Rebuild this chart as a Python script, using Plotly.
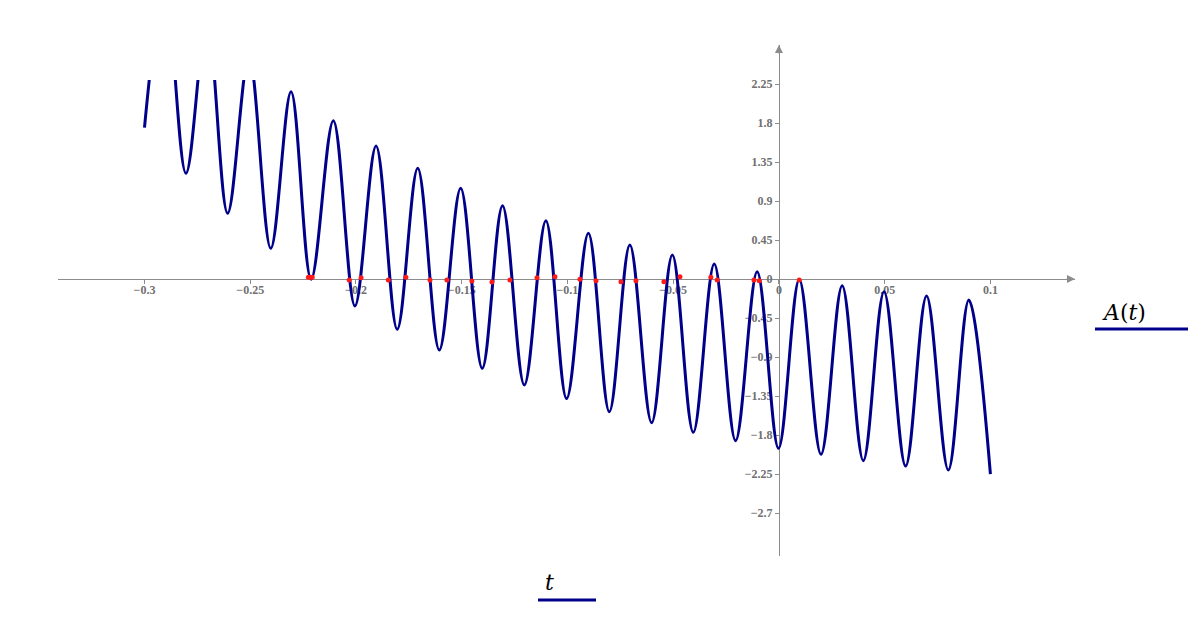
import plotly.graph_objects as go

# ---- data ----
# curve A(t): start, alternating extrema, end
t_curve = [-0.3000, -0.2905, -0.2804, -0.2705, -0.2607, -0.2506, -0.2403, -0.2307,
           -0.2212, -0.2107, -0.2005, -0.1905, -0.1805, -0.1708, -0.1606, -0.1505,
           -0.1403, -0.1307, -0.1204, -0.1102, -0.1004, -0.0901, -0.0802, -0.0705,
           -0.0602, -0.0504, -0.0405, -0.0306, -0.0205, -0.0103, -0.0002, 0.0096,
           0.0199, 0.0299, 0.0399, 0.0497, 0.0599, 0.0698, 0.0801, 0.0898, 0.1000]
a_curve = [1.746, 3.40, 1.220, 3.00, 0.758, 2.57, 0.354, 2.161,
           -0.003, 1.827, -0.311, 1.535, -0.581, 1.277, -0.819, 1.046,
           -1.031, 0.846, -1.223, 0.673, -1.380, 0.527, -1.531, 0.392,
           -1.658, 0.277, -1.769, 0.173, -1.865, 0.084, -1.954, -0.005,
           -2.023, -0.077, -2.096, -0.146, -2.158, -0.196, -2.204, -0.242, -2.250]

# zero-crossing markers (red dots)
t_roots = [-0.2225, -0.2215, -0.2207, -0.2032, -0.1976, -0.1847, -0.1764, -0.1650,
           -0.1570, -0.1452, -0.1357, -0.1272, -0.1144, -0.1059, -0.0941, -0.0865,
           -0.0747, -0.0676, -0.0544, -0.0468, -0.0322, -0.0292, -0.0118, -0.0093, 0.0096]
a_roots = [0.020, 0.020, 0.020, -0.012, 0.015, -0.012, 0.020, -0.012,
           -0.012, -0.023, -0.035, -0.012, 0.015, 0.027, -0.003, -0.020,
           -0.031, -0.020, -0.031, 0.027, 0.020, -0.012, -0.012, -0.020, -0.012]

x_tickvals = [-0.3, -0.25, -0.2, -0.15, -0.1, -0.05, 0, 0.05, 0.1]
x_ticktext = ["\u22120.3", "\u22120.25", "\u22120.2", "\u22120.15", "\u22120.1", "\u22120.05", "0", "0.05", "0.1"]
y_tickvals = [2.25, 1.8, 1.35, 0.9, 0.45, 0, -0.45, -0.9, -1.35, -1.8, -2.25, -2.7]
y_ticktext = ["2.25", "1.8", "1.35", "0.9", "0.45", "0", "\u22120.45", "\u22120.9",
              "\u22121.35", "\u22121.8", "\u22122.25", "\u22122.7"]

X_RANGE = [-0.3409, 0.1400]
Y_RANGE = [-3.196, 2.700]
Y_CLIP_TOP = 2.296

AXIS_GRAY = "#8c8c8c"
LABEL_GRAY = "#707070"
CURVE_BLUE = "#00008b"

# page layout (the page body adds an 8px offset)
OFF = 8
FIG_W, FIG_H = 1204 - OFF, 631 - OFF
ML, MT = 58 - OFF, 45 - OFF
PLOT_W = 1075 - 58
PLOT_H = 556 - 45
MR = FIG_W - ML - PLOT_W
MB = FIG_H - MT - PLOT_H


def px2paper(px, py):
    """page pixel -> plot-area paper fraction"""
    fx = (px - OFF - ML) / PLOT_W
    fy = 1 - (py - OFF - MT) / PLOT_H
    return fx, fy


fig = go.Figure()
# invisible trace to create the main (axes) subplot
fig.add_trace(go.Scatter(x=[X_RANGE[0]], y=[0], mode="markers", xaxis="x", yaxis="y",
                         marker=dict(opacity=0), hoverinfo="skip", showlegend=False))
fig.add_trace(go.Scatter(x=t_curve, y=a_curve, mode="lines", xaxis="x", yaxis="y2",
                         line=dict(color=CURVE_BLUE, width=3, shape="spline", smoothing=1.0),
                         hoverinfo="skip", showlegend=False))
fig.add_trace(go.Scatter(x=t_roots, y=a_roots, mode="markers", xaxis="x", yaxis="y2",
                         marker=dict(color="#ff1a1a", size=5), showlegend=False))

x0_frac = (0 - X_RANGE[0]) / (X_RANGE[1] - X_RANGE[0])
y0_frac = (0 - Y_RANGE[0]) / (Y_RANGE[1] - Y_RANGE[0])
clip_frac = (Y_CLIP_TOP - Y_RANGE[0]) / (Y_RANGE[1] - Y_RANGE[0])

tickfont = dict(family="Liberation Serif", size=12, color=LABEL_GRAY, weight="bold")

fig.update_layout(
    width=FIG_W, height=FIG_H,
    margin=dict(l=ML, r=MR, t=MT, b=MB, pad=0),
    paper_bgcolor="white", plot_bgcolor="rgba(0,0,0,0)",
    showlegend=False,
    xaxis=dict(range=X_RANGE, anchor="free", position=y0_frac, showgrid=False, zeroline=False,
               showline=True, linecolor=AXIS_GRAY, linewidth=1,
               tickvals=x_tickvals, ticktext=x_ticktext, ticks="outside", ticklen=4,
               tickcolor=AXIS_GRAY, tickfont=tickfont, ticklabelstandoff=-4),
    yaxis=dict(range=Y_RANGE, anchor="free", position=x0_frac, showgrid=False, zeroline=False,
               showline=True, linecolor=AXIS_GRAY, linewidth=1,
               tickvals=y_tickvals, ticktext=y_ticktext, ticks="outside", ticklen=4,
               tickcolor=AXIS_GRAY, tickfont=tickfont),
    yaxis2=dict(range=[Y_RANGE[0], Y_CLIP_TOP], domain=[0, clip_frac], anchor="x",
                visible=False, showgrid=False, zeroline=False),
)

# axis arrowheads
fig.add_annotation(x=X_RANGE[1], y=0, xref="x", yref="y", ax=-10, ay=0,
                   showarrow=True, arrowhead=2, arrowsize=1.6, arrowwidth=1,
                   arrowcolor=AXIS_GRAY, text="")
fig.add_annotation(x=0, y=Y_RANGE[1], xref="x", yref="y", ax=0, ay=10,
                   showarrow=True, arrowhead=2, arrowsize=1.6, arrowwidth=1,
                   arrowcolor=AXIS_GRAY, text="")

# axis labels with underline (Mathcad-style)
ax_, ay_ = px2paper(1124, 312)
fig.add_annotation(x=ax_, y=ay_, xref="paper", yref="paper", xanchor="center", yanchor="middle",
                   text="<i>A</i>(<i>t</i>)", showarrow=False,
                   font=dict(family="DejaVu Serif", size=22, color="black"))
lx0, ly = px2paper(1095, 329)
lx1, _ = px2paper(1188, 329)
fig.add_shape(type="line", xref="paper", yref="paper", x0=lx0, x1=lx1, y0=ly, y1=ly,
              line=dict(color=CURVE_BLUE, width=3))
tx, ty = px2paper(549, 582)
fig.add_annotation(x=tx, y=ty, xref="paper", yref="paper", xanchor="center", yanchor="middle",
                   text="<i>t</i>", showarrow=False,
                   font=dict(family="DejaVu Serif", size=22, color="black"))
bx0, by = px2paper(538, 600)
bx1, _ = px2paper(596, 600)
fig.add_shape(type="line", xref="paper", yref="paper", x0=bx0, x1=bx1, y0=by, y1=by,
              line=dict(color=CURVE_BLUE, width=3))

fig.write_html("out.html")
